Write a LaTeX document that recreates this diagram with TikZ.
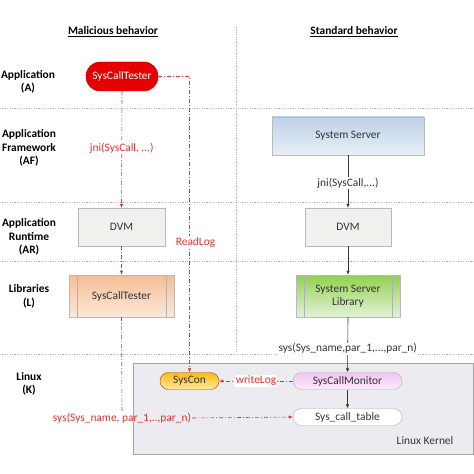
\documentclass[tikz,border=0pt]{standalone}
\usepackage{fontspec}
\setmainfont{Carlito}
\usetikzlibrary{arrows.meta}

\definecolor{malred}{RGB}{222,48,48}
\definecolor{kernelgray}{RGB}{236,236,240}
\definecolor{boxgray}{RGB}{240,240,236}
\definecolor{servertop}{RGB}{190,209,232}
\definecolor{serverbot}{RGB}{232,238,247}
\definecolor{orangetop}{RGB}{244,190,150}
\definecolor{orangebot}{RGB}{252,232,218}
\definecolor{greentop}{RGB}{146,208,80}
\definecolor{greenbot}{RGB}{228,242,216}
\definecolor{contop}{RGB}{250,188,20}
\definecolor{conbot}{RGB}{255,232,160}
\definecolor{montop}{RGB}{242,196,242}
\definecolor{monbot}{RGB}{252,236,252}

\begin{document}
\begin{tikzpicture}[x=1bp,y=-1bp,
    font=\fontsize{11.4bp}{13.5bp}\selectfont,
    >={Latex[length=4bp,width=3.5bp]},
    layer/.style={font=\fontsize{11.4bp}{13.5bp}\selectfont\bfseries, align=center},
    sepline/.style={gray!55, dash pattern=on 1.2bp off 1.2bp, line width=0.6bp},
    box/.style={rectangle, draw=gray!55, minimum height=38bp, inner sep=0pt, text=black!80, align=center},
    libbox/.style={box, minimum height=42bp, path picture={
        \draw[gray!60] ([xshift=8bp]path picture bounding box.north west) -- ([xshift=8bp]path picture bounding box.south west)
                       ([xshift=-8bp]path picture bounding box.north east) -- ([xshift=-8bp]path picture bounding box.south east);}},
    pill/.style={rectangle, rounded corners=8.5bp, draw=gray!60, minimum height=17bp, inner sep=0pt, text=black!80},
    malflow/.style={->, malred, dash pattern=on 4bp off 2bp on 1bp off 2bp, line width=0.6bp},
    stdflow/.style={->, gray!40!black, line width=0.6bp},
    mallabel/.style={fill=white, text=malred, inner sep=1pt},
    stdlabel/.style={fill=white, text=black!80, inner sep=1pt},
  ]
  \useasboundingbox (0,0) rectangle (474,474);

  % layer separators
  \draw[sepline] (0,108) -- (474,108);
  \draw[sepline] (0,202) -- (474,202);
  \draw[sepline] (0,261) -- (474,261);
  \draw[sepline] (0,354) -- (474,354);
  \draw[sepline] (236,27) -- (236,352);

  % headings and layers
  \node at (113,32) (malhead) {\underline{\textbf{Malicious behavior}}};
  \node at (354,32) (stdhead) {\underline{\textbf{Standard behavior}}};
  \node at (28,82)    [layer] (layerA)  {Application\\(A)};
  \node at (29,148)   [layer] (layerAF) {Application\\Framework\\(AF)};
  \node at (29,237)   [layer] (layerAR) {Application\\Runtime\\(AR)};
  \node at (29,296.5) [layer] (layerL)  {Libraries\\(L)};
  \node at (29,384)   [layer] (layerK)  {Linux\\(K)};

  % kernel
  \node at (303,408.5) [rectangle, draw=gray!70, fill=kernelgray, minimum width=340bp, minimum height=91bp, inner sep=0pt] (kernel) {};
  \node at (425,441) [text=black!80] (kernelname) {Linux Kernel};

  % malicious side
  \node at (122,76.5) [rectangle, rounded corners=14bp, draw=red!75!black, fill=red!90!black, text=white, minimum width=72bp, minimum height=29bp, inner sep=0pt] (tester) {SysCallTester};
  \node at (121.5,227) [box, fill=boxgray, minimum width=87bp] (dvm1) {DVM};
  \node at (121.5,296) [libbox, top color=orangetop, bottom color=orangebot, minimum width=105bp] (lib1) {SysCallTester};
  \node at (122,418) [text=malred, inner sep=1pt] (sys1) {sys(Sys\_name, par\_1,..,par\_n)};

  % standard side
  \node at (348,136) [box, top color=servertop, bottom color=serverbot, minimum width=152bp] (server) {System Server};
  \node at (348,227) [box, fill=boxgray, minimum width=86bp] (dvm2) {DVM};
  \node at (348,296) [libbox, top color=greentop, bottom color=greenbot, minimum width=104bp] (lib2) {System Server\\Library};

  % kernel nodes
  \node at (189.5,381)   [pill, draw=orange!60!black, top color=contop, bottom color=conbot, minimum width=59bp] (syscon) {SysCon};
  \node at (347.5,381)   [pill, top color=montop, bottom color=monbot, minimum width=109bp] (monitor) {SysCallMonitor};
  \node at (347.5,417)   [pill, fill=white, minimum width=109bp] (table) {Sys\_call\_table};

  % malicious flows
  \draw[malflow] (tester.south) -- node[mallabel, pos=0.49] {jni(SysCall, ...)} (dvm1.north);
  \draw[malflow] (dvm1.south)   -- (lib1.north);
  \draw[malflow, -] (lib1.south) -- (sys1.north);
  \draw[malflow] (sys1.east)    -- (table.west);
  \draw[malflow] (tester.east)  -| node[mallabel, pos=0.78, xshift=6bp] {ReadLog} (syscon.north);
  \draw[malflow] (monitor.west) -- node[mallabel] {writeLog} (syscon.east);

  % standard flows
  \draw[stdflow] (server.south) -- node[stdlabel, pos=0.53] {jni(SysCall,...)} (dvm2.north);
  \draw[stdflow] (dvm2.south)   -- (lib2.north);
  \draw[stdflow] (lib2.south)   -- node[stdlabel, pos=0.57] {sys(Sys\_name,par\_1,...,par\_n)} (monitor.north);
  \draw[stdflow] (monitor.south) -- (table.north);
\end{tikzpicture}
\end{document}
